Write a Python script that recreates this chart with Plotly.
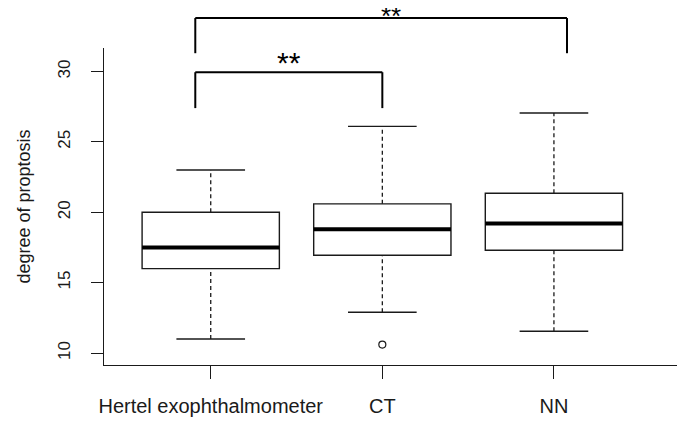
import plotly.graph_objects as go

# values
groups = ["Hertel exophthalmometer", "CT", "NN"]
pos = [1, 2, 3]
q1 = [16.0, 16.95, 17.3]
median = [17.5, 18.8, 19.2]
q3 = [20.0, 20.6, 21.35]
lower = [11.0, 12.9, 11.55]
upper = [23.0, 26.1, 27.05]
outlier_x = [2]
outlier_y = [10.6]

# significance brackets (x in axis units, heights in proptosis units)
br_left = [0.91, 0.91]
br_right = [2.0, 3.076]
br_top = [29.95, 33.8]
br_foot = [27.4, 31.3]
br_star_x = [1.455, 2.05]
br_label = ["**", "**"]
# the top label sits against the page edge, so it is a bit smaller and lower
br_star_size = [30, 26]
br_shift = [-9, -15]

ymin, ymax = 9.15, 31.67
bw = 0.8
ink = "#1a1a1a"


def paper_y(v):
    return (v - ymin) / (ymax - ymin)


fig = go.Figure()

fig.add_trace(go.Box(
    x=pos, q1=q1, median=median, q3=q3, lowerfence=q1, upperfence=q3,
    width=bw, whiskerwidth=0, fillcolor="white",
    line=dict(color=ink, width=1.4), boxpoints=False,
    hoverinfo="skip", showlegend=False,
))

# dashed whiskers
wx, wy = [], []
for k, a, b, c, d in zip(pos, lower, q1, q3, upper):
    wx += [k, k, None, k, k, None]
    wy += [a, b, None, c, d, None]
fig.add_trace(go.Scatter(x=wx, y=wy, mode="lines", showlegend=False,
                         line=dict(color=ink, width=1.3, dash="4px,3px")))

# whisker caps
cx, cy = [], []
for k, a, d in zip(pos, lower, upper):
    cx += [k - bw / 4, k + bw / 4, None, k - bw / 4, k + bw / 4, None]
    cy += [a, a, None, d, d, None]
fig.add_trace(go.Scatter(x=cx, y=cy, mode="lines", showlegend=False,
                         line=dict(color=ink, width=1.4)))

# thick medians
mx, my = [], []
for k, m in zip(pos, median):
    mx += [k - bw / 2, k + bw / 2, None]
    my += [m, m, None]
fig.add_trace(go.Scatter(x=mx, y=my, mode="lines", showlegend=False,
                         line=dict(color="black", width=4)))

fig.add_trace(go.Scatter(x=outlier_x, y=outlier_y, mode="markers", showlegend=False,
                         marker=dict(symbol="circle-open", size=7, color=ink,
                                     line=dict(width=1.2))))

for l, r, t, f, sx, lab, fs, sh in zip(br_left, br_right, br_top, br_foot,
                                       br_star_x, br_label, br_star_size, br_shift):
    for x0, y0, x1, y1 in [(l, f, l, t), (l, t, r, t), (r, t, r, f)]:
        fig.add_shape(type="line", xref="x", yref="paper",
                      x0=x0, x1=x1, y0=paper_y(y0), y1=paper_y(y1),
                      line=dict(color="black", width=2))
    fig.add_annotation(x=sx, y=paper_y(t), xref="x", yref="paper", text=lab,
                       showarrow=False, yanchor="bottom", yshift=sh,
                       font=dict(size=fs, color="black"))

# page body adds an 8px offset, so the margins are shifted to compensate
fig.update_layout(
    width=685, height=425,
    margin=dict(l=96, r=15, t=40, b=68),
    plot_bgcolor="white", paper_bgcolor="white",
    font=dict(family="Liberation Sans, Arial", color=ink),
    showlegend=False,
)
fig.update_xaxes(
    range=[0.378, 3.723], tickvals=pos, ticktext=groups, automargin=False,
    showgrid=False, zeroline=False, showline=True, linecolor=ink, linewidth=1.3,
    ticks="outside", ticklen=13, tickwidth=1.3, tickcolor=ink,
    tickfont=dict(size=20), ticklabelstandoff=10,
)
fig.update_yaxes(
    range=[ymin, ymax], tickvals=[10, 15, 20, 25, 30], automargin=False,
    showgrid=False, zeroline=False, showline=True, linecolor=ink, linewidth=1.3,
    ticks="outside", ticklen=12, tickwidth=1.3, tickcolor=ink,
    tickangle=-90, tickfont=dict(size=17), ticklabelstandoff=14,
    title=dict(text="degree of proptosis", font=dict(size=18), standoff=19),
)

fig.write_html("out.html")
